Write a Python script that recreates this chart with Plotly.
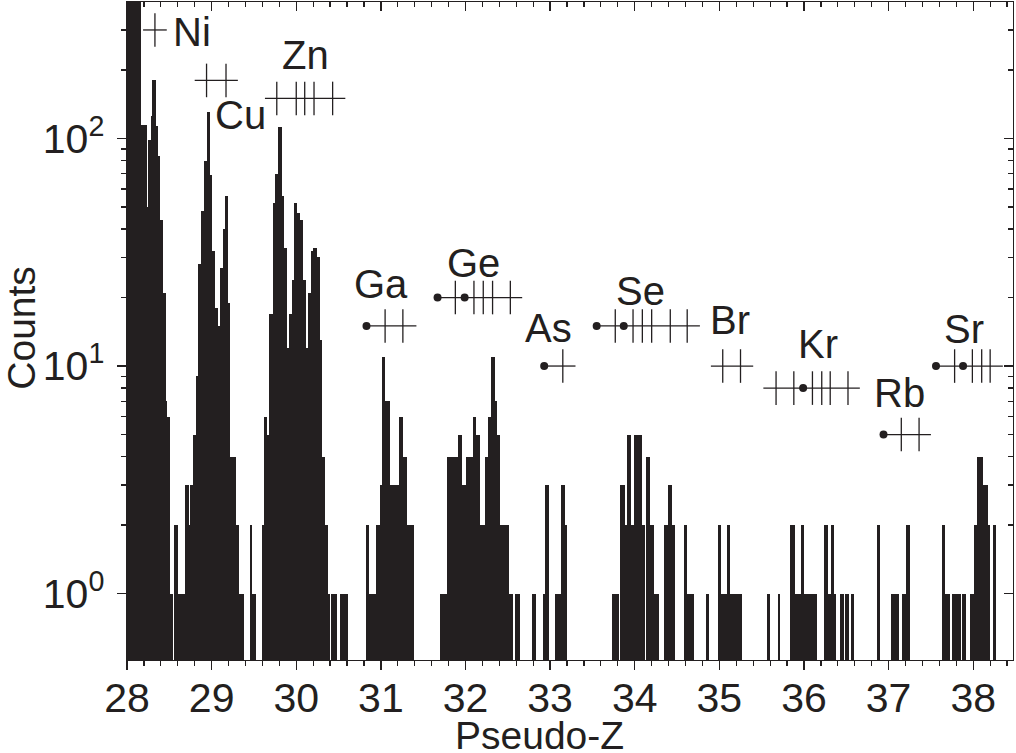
import math
import plotly.graph_objects as go

# ---------------- histogram data (runs of equal counts) ----------------
run_lo = [28.00, 28.04, 28.08, 28.12, 28.17, 28.24, 28.25, 28.28, 28.30, 28.34, 28.37, 28.39, 28.42, 28.46,
          28.47, 28.51, 28.55, 28.60, 28.69, 28.73, 28.75, 28.78, 28.82, 28.84, 28.88, 28.91, 28.94, 28.98,
          29.01, 29.04, 29.07, 29.10, 29.13, 29.16, 29.19, 29.22, 29.29, 29.32, 29.45, 29.48,
          29.60, 29.62, 29.65, 29.68, 29.72, 29.75, 29.79, 29.83, 29.85, 29.89, 29.92, 29.95, 29.97, 30.01,
          30.05, 30.08, 30.11, 30.14, 30.17, 30.20, 30.25, 30.28, 30.31, 30.34, 30.37, 30.41, 30.52,
          30.83, 30.86, 30.94, 30.99, 31.01, 31.05, 31.11, 31.18, 31.22, 31.26, 31.31, 31.35,
          31.70, 31.78, 31.84, 31.91, 31.96, 32.01, 32.09, 32.13, 32.17, 32.23, 32.27, 32.30, 32.35, 32.37,
          32.41, 32.45, 32.51, 32.59,
          32.79, 32.91, 32.94, 33.06, 33.13, 33.17,
          33.73, 33.83, 33.88, 33.91, 33.96, 33.99, 34.04, 34.08, 34.13, 34.18, 34.23, 34.34, 34.39, 34.44,
          34.58, 34.62,
          34.84, 34.98, 35.02, 35.09, 35.13,
          35.56, 35.69, 35.84, 35.89, 35.96, 36.00, 36.24, 36.28, 36.32, 36.36, 36.43, 36.49, 36.55,
          36.86, 37.03, 37.08, 37.16, 37.21,
          37.63, 37.67, 37.75, 37.87, 37.96, 38.01, 38.05, 38.11, 38.17, 38.23]
run_hi = [28.04, 28.08, 28.12, 28.17, 28.24, 28.25, 28.28, 28.30, 28.34, 28.37, 28.39, 28.42, 28.46, 28.47,
          28.51, 28.54, 28.60, 28.69, 28.73, 28.75, 28.78, 28.82, 28.84, 28.88, 28.91, 28.94, 28.98, 29.01,
          29.04, 29.07, 29.10, 29.13, 29.16, 29.19, 29.22, 29.29, 29.32, 29.38, 29.48, 29.53,
          29.62, 29.65, 29.68, 29.72, 29.75, 29.79, 29.83, 29.85, 29.89, 29.92, 29.95, 29.97, 30.01, 30.05,
          30.08, 30.11, 30.14, 30.17, 30.20, 30.25, 30.28, 30.31, 30.34, 30.37, 30.40, 30.48, 30.61,
          30.86, 30.94, 30.99, 31.01, 31.05, 31.11, 31.18, 31.22, 31.26, 31.31, 31.35, 31.39,
          31.78, 31.84, 31.91, 31.96, 32.01, 32.09, 32.13, 32.17, 32.23, 32.27, 32.30, 32.35, 32.37, 32.41,
          32.45, 32.51, 32.56, 32.64,
          32.83, 32.94, 32.99, 33.13, 33.17, 33.20,
          33.81, 33.88, 33.91, 33.96, 33.99, 34.04, 34.08, 34.12, 34.18, 34.23, 34.29, 34.39, 34.44, 34.48,
          34.62, 34.70,
          34.88, 35.02, 35.09, 35.13, 35.27,
          35.60, 35.72, 35.89, 35.96, 36.00, 36.15, 36.28, 36.32, 36.36, 36.38, 36.47, 36.53, 36.59,
          36.90, 37.07, 37.12, 37.21, 37.25,
          37.67, 37.72, 37.85, 37.91, 38.01, 38.05, 38.11, 38.17, 38.20, 38.27]
run_count = [1800, 1200, 800, 480, 115, 50, 99, 125, 180, 113, 84, 44, 21, 7,
             6, 1, 2, 1, 3, 2, 3, 5, 9, 28, 48, 80, 131, 69,
             32, 18, 15, 27, 40, 56, 19, 4, 2, 1, 2, 1,
             2, 6, 5, 17, 52, 70, 112, 56, 33, 12, 17, 24, 52, 47,
             44, 24, 12, 21, 32, 33, 30, 13, 4, 2, 1, 1, 1,
             2, 1, 2, 3, 11, 7, 3, 3, 6, 4, 2, 2,
             1, 4, 4, 5, 3, 4, 6, 5, 2, 4, 6, 11, 7, 5,
             2, 2, 1, 1,
             1, 1, 3, 1, 3, 2,
             1, 3, 2, 5, 2, 5, 5, 2, 4, 2, 1, 2, 3, 2,
             2, 1,
             1, 2, 1, 2, 1,
             1, 1, 2, 1, 2, 1, 2, 1, 2, 1, 1, 1, 1,
             2, 1, 1, 1, 2,
             2, 1, 1, 1, 1, 2, 4, 3, 2, 2]

# ---------------- isotope markers ----------------
elements = ["Ni", "Cu", "Zn", "Ga", "Ge", "As", "Se", "Br", "Kr", "Rb", "Sr"]
iso_level = [300, 180, 150, 15, 20, 10, 15, 10, 8, 5, 10]
iso_line_start = [28.19, 28.80, 29.63, 30.83, 31.67, 32.93, 33.55, 34.90, 35.52, 36.94, 37.56]
iso_line_end = [28.47, 29.31, 30.58, 31.42, 32.67, 33.30, 34.77, 35.40, 36.66, 37.50, 38.35]
iso_cross = [[28.33], [28.94, 29.17], [29.77, 30.00, 30.10, 30.21, 30.43], [31.05, 31.26],
             [31.88, 32.10, 32.21, 32.32, 32.53], [33.15],
             [33.77, 33.98, 34.09, 34.20, 34.42, 34.62], [35.04, 35.25],
             [35.67, 35.88, 36.10, 36.21, 36.31, 36.52], [37.15, 37.36],
             [37.78, 37.99, 38.10, 38.20]]
iso_dot = [[], [], [], [30.83], [31.67, 31.99], [32.93], [33.55, 33.87], [], [35.99], [36.94],
           [37.56, 37.88]]
label_x = [28.77, 29.34, 30.11, 31.00, 32.10, 32.98, 34.07, 35.12, 36.16, 37.13, 37.89]
label_y = [294, 127, 233, 23, 28.5, 14.7, 21.4, 16.0, 12.5, 7.6, 14.6]

# ---------------- axes ----------------
x_range = [28, 38.47]
y_range_log = [-0.292, 2.60]
x_ticks = [28, 29, 30, 31, 32, 33, 34, 35, 36, 37, 38]
y_ticks = [1, 10, 100]
y_ticktext = ["10<sup>0</sup>", "10<sup>1</sup>", "10<sup>2</sup>"]
y_minor = [2, 3, 4, 5, 6, 7, 8, 9, 20, 30, 40, 50, 60, 70, 80, 90, 200, 300, 400]
x_title = "Pseudo-Z"
y_title = "Counts"

INK = "#231f20"
FONT = "Liberation Sans, Arial, sans-serif"

fig = go.Figure()

mids = [(a + b) / 2 for a, b in zip(run_lo, run_hi)]
widths = [b - a for a, b in zip(run_lo, run_hi)]
fig.add_trace(go.Bar(x=mids, y=run_count, width=widths, marker=dict(color=INK, line=dict(width=0)),
                     hoverinfo="skip", showlegend=False))

for i, el in enumerate(elements):
    lvl = iso_level[i]
    fig.add_trace(go.Scatter(x=[iso_line_start[i], iso_line_end[i]], y=[lvl, lvl], mode="lines",
                             line=dict(color=INK, width=1.3), hoverinfo="skip", showlegend=False))
    fig.add_trace(go.Scatter(x=iso_cross[i], y=[lvl] * len(iso_cross[i]), mode="markers",
                             marker=dict(symbol="line-ns", size=24, line=dict(color=INK, width=1.3)),
                             hoverinfo="skip", showlegend=False))
    if iso_dot[i]:
        fig.add_trace(go.Scatter(x=iso_dot[i], y=[lvl] * len(iso_dot[i]), mode="markers",
                                 marker=dict(symbol="circle", size=8, color=INK),
                                 hoverinfo="skip", showlegend=False))
    # annotations on log axes use log10 coordinates
    fig.add_annotation(x=label_x[i], y=math.log10(label_y[i]), xref="x", yref="y", text=el,
                       showarrow=False, font=dict(family=FONT, size=40, color=INK),
                       xanchor="center", yanchor="middle")

# axis titles
fig.add_annotation(x=0.466, y=-0.114, xref="paper", yref="paper", text=x_title, showarrow=False,
                   font=dict(family=FONT, size=39, color=INK), xanchor="center", yanchor="middle")
fig.add_annotation(x=-0.1185, y=0.505, xref="paper", yref="paper", text=y_title, showarrow=False,
                   textangle=-90, font=dict(family=FONT, size=39, color=INK),
                   xanchor="center", yanchor="middle")

# invisible trace so the mirrored axes are drawn
fig.add_trace(go.Scatter(x=label_x, y=label_y, xaxis="x2", yaxis="y2", mode="markers",
                         marker=dict(opacity=0), hoverinfo="skip", showlegend=False))

axis_common = dict(showgrid=False, zeroline=False, showline=True, linecolor=INK, linewidth=1.4,
                   tickcolor=INK, tickwidth=1.4, automargin=False)

fig.update_layout(
    width=1016, height=753,
    margin=dict(l=127, r=3, t=2, b=93),
    paper_bgcolor="white", plot_bgcolor="white",
    font=dict(family=FONT, color=INK, size=40),
    bargap=0,
    xaxis=dict(range=x_range, tickmode="array", tickvals=x_ticks, ticks="outside", ticklen=9,
               tickfont=dict(size=41), ticklabelstandoff=-8,
               minor=dict(dtick=0.2, tick0=28, ticks="outside", ticklen=5, tickcolor=INK, tickwidth=1.2),
               **axis_common),
    yaxis=dict(type="log", range=y_range_log, tickmode="array", tickvals=y_ticks, ticktext=y_ticktext,
               ticks="outside", ticklen=9, tickfont=dict(size=41), ticklabelstandoff=4,
               minor=dict(tickmode="array", tickvals=y_minor, ticks="outside", ticklen=5,
                          tickcolor=INK, tickwidth=1.2),
               **axis_common),
    xaxis2=dict(range=x_range, overlaying="x", side="top", tickmode="array", tickvals=x_ticks,
                ticks="inside", ticklen=9, showticklabels=False,
                minor=dict(dtick=0.2, tick0=28, ticks="inside", ticklen=5, tickcolor=INK, tickwidth=1.2),
                **axis_common),
    yaxis2=dict(type="log", range=y_range_log, overlaying="y", side="right", tickmode="array",
                tickvals=y_ticks, ticks="inside", ticklen=9, showticklabels=False,
                minor=dict(tickmode="array", tickvals=y_minor, ticks="inside", ticklen=5,
                           tickcolor=INK, tickwidth=1.2),
                **axis_common),
)

# remove the browser's default 8px page margin so the figure sits at the window's corner
fig.write_html("out.html", config={"displayModeBar": False, "staticPlot": True},
               post_script="document.body.style.margin='0px';")
